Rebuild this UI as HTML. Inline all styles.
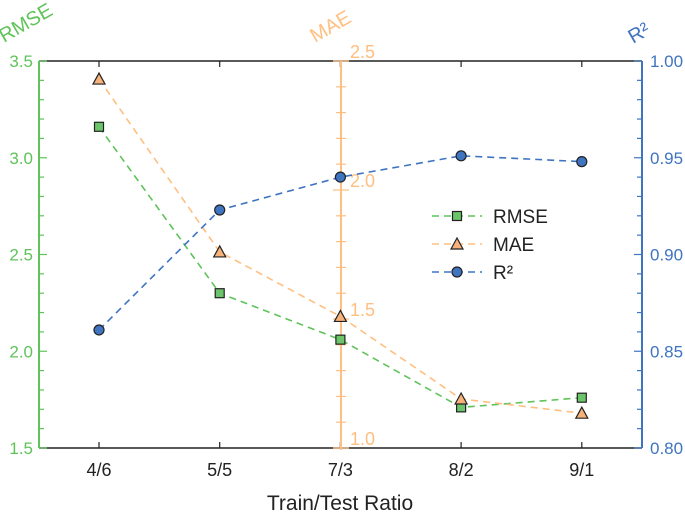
<!DOCTYPE html>
<html><head><meta charset="utf-8"><style>
body{margin:0;background:#fff}
svg{display:block;font-family:"Liberation Sans",Arial,sans-serif}
</style></head><body>
<svg id="chart" width="685" height="516" viewBox="0 0 685 516">
<g id="axes"></g><g id="series"></g><g id="legend"></g>
</svg>
<script>
const categories=["4/6","5/5","7/3","8/2","9/1"];
const rmseValues=[3.16,2.30,2.06,1.71,1.76];
const maeValues=[2.43,1.76,1.51,1.19,1.135];
const r2Values=[0.861,0.923,0.940,0.951,0.948];
const rmseTicks=["1.5","2.0","2.5","3.0","3.5"];
const maeTicks=["1.0","1.5","2.0","2.5"];
const r2Ticks=["0.80","0.85","0.90","0.95","1.00"];

const NS="http://www.w3.org/2000/svg";
const L=39,R=642,T=61,B=448,MX=341;
const xPos=i=>99+i*120.7;
const yR=v=>B-(v-1.5)/2.0*(B-T);
const yM=v=>B-(v-1.0)/1.5*(B-T);
const y2=v=>B-(v-0.80)/0.20*(B-T);
function mk(tag,attrs,parent,txt){const e=document.createElementNS(NS,tag);for(const k in attrs)e.setAttribute(k,attrs[k]);if(txt!=null)e.textContent=txt;parent.appendChild(e);return e;}
const ax=document.getElementById('axes'),se=document.getElementById('series'),lg=document.getElementById('legend');
const G="#5fc35a",O="#ffbf80",B2="#3f74c0";

let e=mk('line',{x1:L,y1:T,x2:R,y2:T,stroke:"#222","stroke-width":1.5},ax);

e=mk('line',{x1:L,y1:B,x2:R,y2:B,stroke:"#222","stroke-width":1.5},ax);

categories.forEach((c,i)=>{
  mk('line',{x1:xPos(i),y1:T,x2:xPos(i),y2:T+6,stroke:"#222","stroke-width":1.2},ax);
  mk('line',{x1:xPos(i),y1:B,x2:xPos(i),y2:B-6,stroke:"#222","stroke-width":1.2},ax);
  const t=mk('text',{x:xPos(i),y:476,"text-anchor":"middle","font-size":18,fill:"#222"},ax,c);
  
});
e=mk('text',{x:340,y:510,"text-anchor":"middle","font-size":21,fill:"#222"},ax,"Train/Test Ratio");


e=mk('line',{x1:L,y1:T,x2:L,y2:B,stroke:G,"stroke-width":2},ax);

for(let k=0;k<=20;k++){const v=1.5+k*0.1;mk('line',{x1:L,y1:yR(v),x2:L+(k%5==0?8:5),y2:yR(v),stroke:G,"stroke-width":1.2},ax);}
rmseTicks.forEach(s=>{const t=mk('text',{x:L-6,y:yR(+s)+6,"text-anchor":"end","font-size":17,fill:G},ax,s);
});
e=mk('text',{x:4,y:43,"font-size":20,fill:G,transform:"rotate(-30 4 43)"},ax,"RMSE");


e=mk('line',{x1:R,y1:T,x2:R,y2:B,stroke:B2,"stroke-width":2},ax);

for(let k=0;k<=20;k++){const v=0.80+k*0.01;mk('line',{x1:R,y1:y2(v),x2:R-(k%5==0?8:5),y2:y2(v),stroke:B2,"stroke-width":1.2},ax);}
r2Ticks.forEach(s=>{const t=mk('text',{x:R+8,y:y2(+s)+6,"font-size":17,fill:B2},ax,s);
});
e=mk('text',{x:633,y:44,"font-size":20,fill:B2,transform:"rotate(-30 633 44)"},ax);

e.textContent="R²";

e=mk('line',{x1:MX,y1:T,x2:MX,y2:B+2,stroke:O,"stroke-width":2},ax);

for(let k=0;k<=15;k++){const v=1.0+k*0.1;const big=k%5==0;mk('line',{x1:MX-(big?8:5),y1:yM(v),x2:MX+(big?8:5),y2:yM(v),stroke:O,"stroke-width":1.2},ax);}
maeTicks.forEach(s=>{const t=mk('text',{x:MX+9,y:yM(+s)-3,"font-size":18,fill:O},ax,s);
});
e=mk('text',{x:315,y:43,"font-size":20,fill:O,transform:"rotate(-30 315 43)"},ax,"MAE");


function line(vals,yf,col,name){const pts=vals.map((v,i)=>xPos(i)+","+yf(v)).join(" ");
const p=mk('polyline',{points:pts,fill:"none",stroke:col,"stroke-width":1.6,"stroke-dasharray":"7,5"},se);
}
line(rmseValues,yR,G,'rmse');line(maeValues,yM,O,'mae');line(r2Values,y2,B2,'r2');
function sq(x,y,p){return mk('rect',{x:x-4.5,y:y-4.5,width:9,height:9,fill:"#6cc56a",stroke:"#222","stroke-width":1.2},p);}
function tri(x,y,p){return mk('polygon',{points:`${x},${y-6} ${x-6},${y+5} ${x+6},${y+5}`,fill:"#f6b27a",stroke:"#222","stroke-width":1.2},p);}
function circ(x,y,p){return mk('circle',{cx:x,cy:y,r:5,fill:"#3f74c0",stroke:"#222","stroke-width":1.2},p);}
rmseValues.forEach((v,i)=>{const m=sq(xPos(i),yR(v),se);});
maeValues.forEach((v,i)=>{const m=tri(xPos(i),yM(v),se);});
r2Values.forEach((v,i)=>{const m=circ(xPos(i),y2(v),se);});

const leg=[["RMSE",G,sq,"rmse"],["MAE",O,tri,"mae"],["R²",B2,circ,"r2"]];
leg.forEach((d,i)=>{const y=216+i*28;
const g=mk('g',{},lg);
mk('line',{x1:432,y1:y,x2:482,y2:y,stroke:d[1],"stroke-width":1.6,"stroke-dasharray":"7,5"},g);
d[2](457,y,g);
mk('text',{x:493,y:y+7,"font-size":19,fill:"#222"},g,d[0]);});
</script>
</body></html>
